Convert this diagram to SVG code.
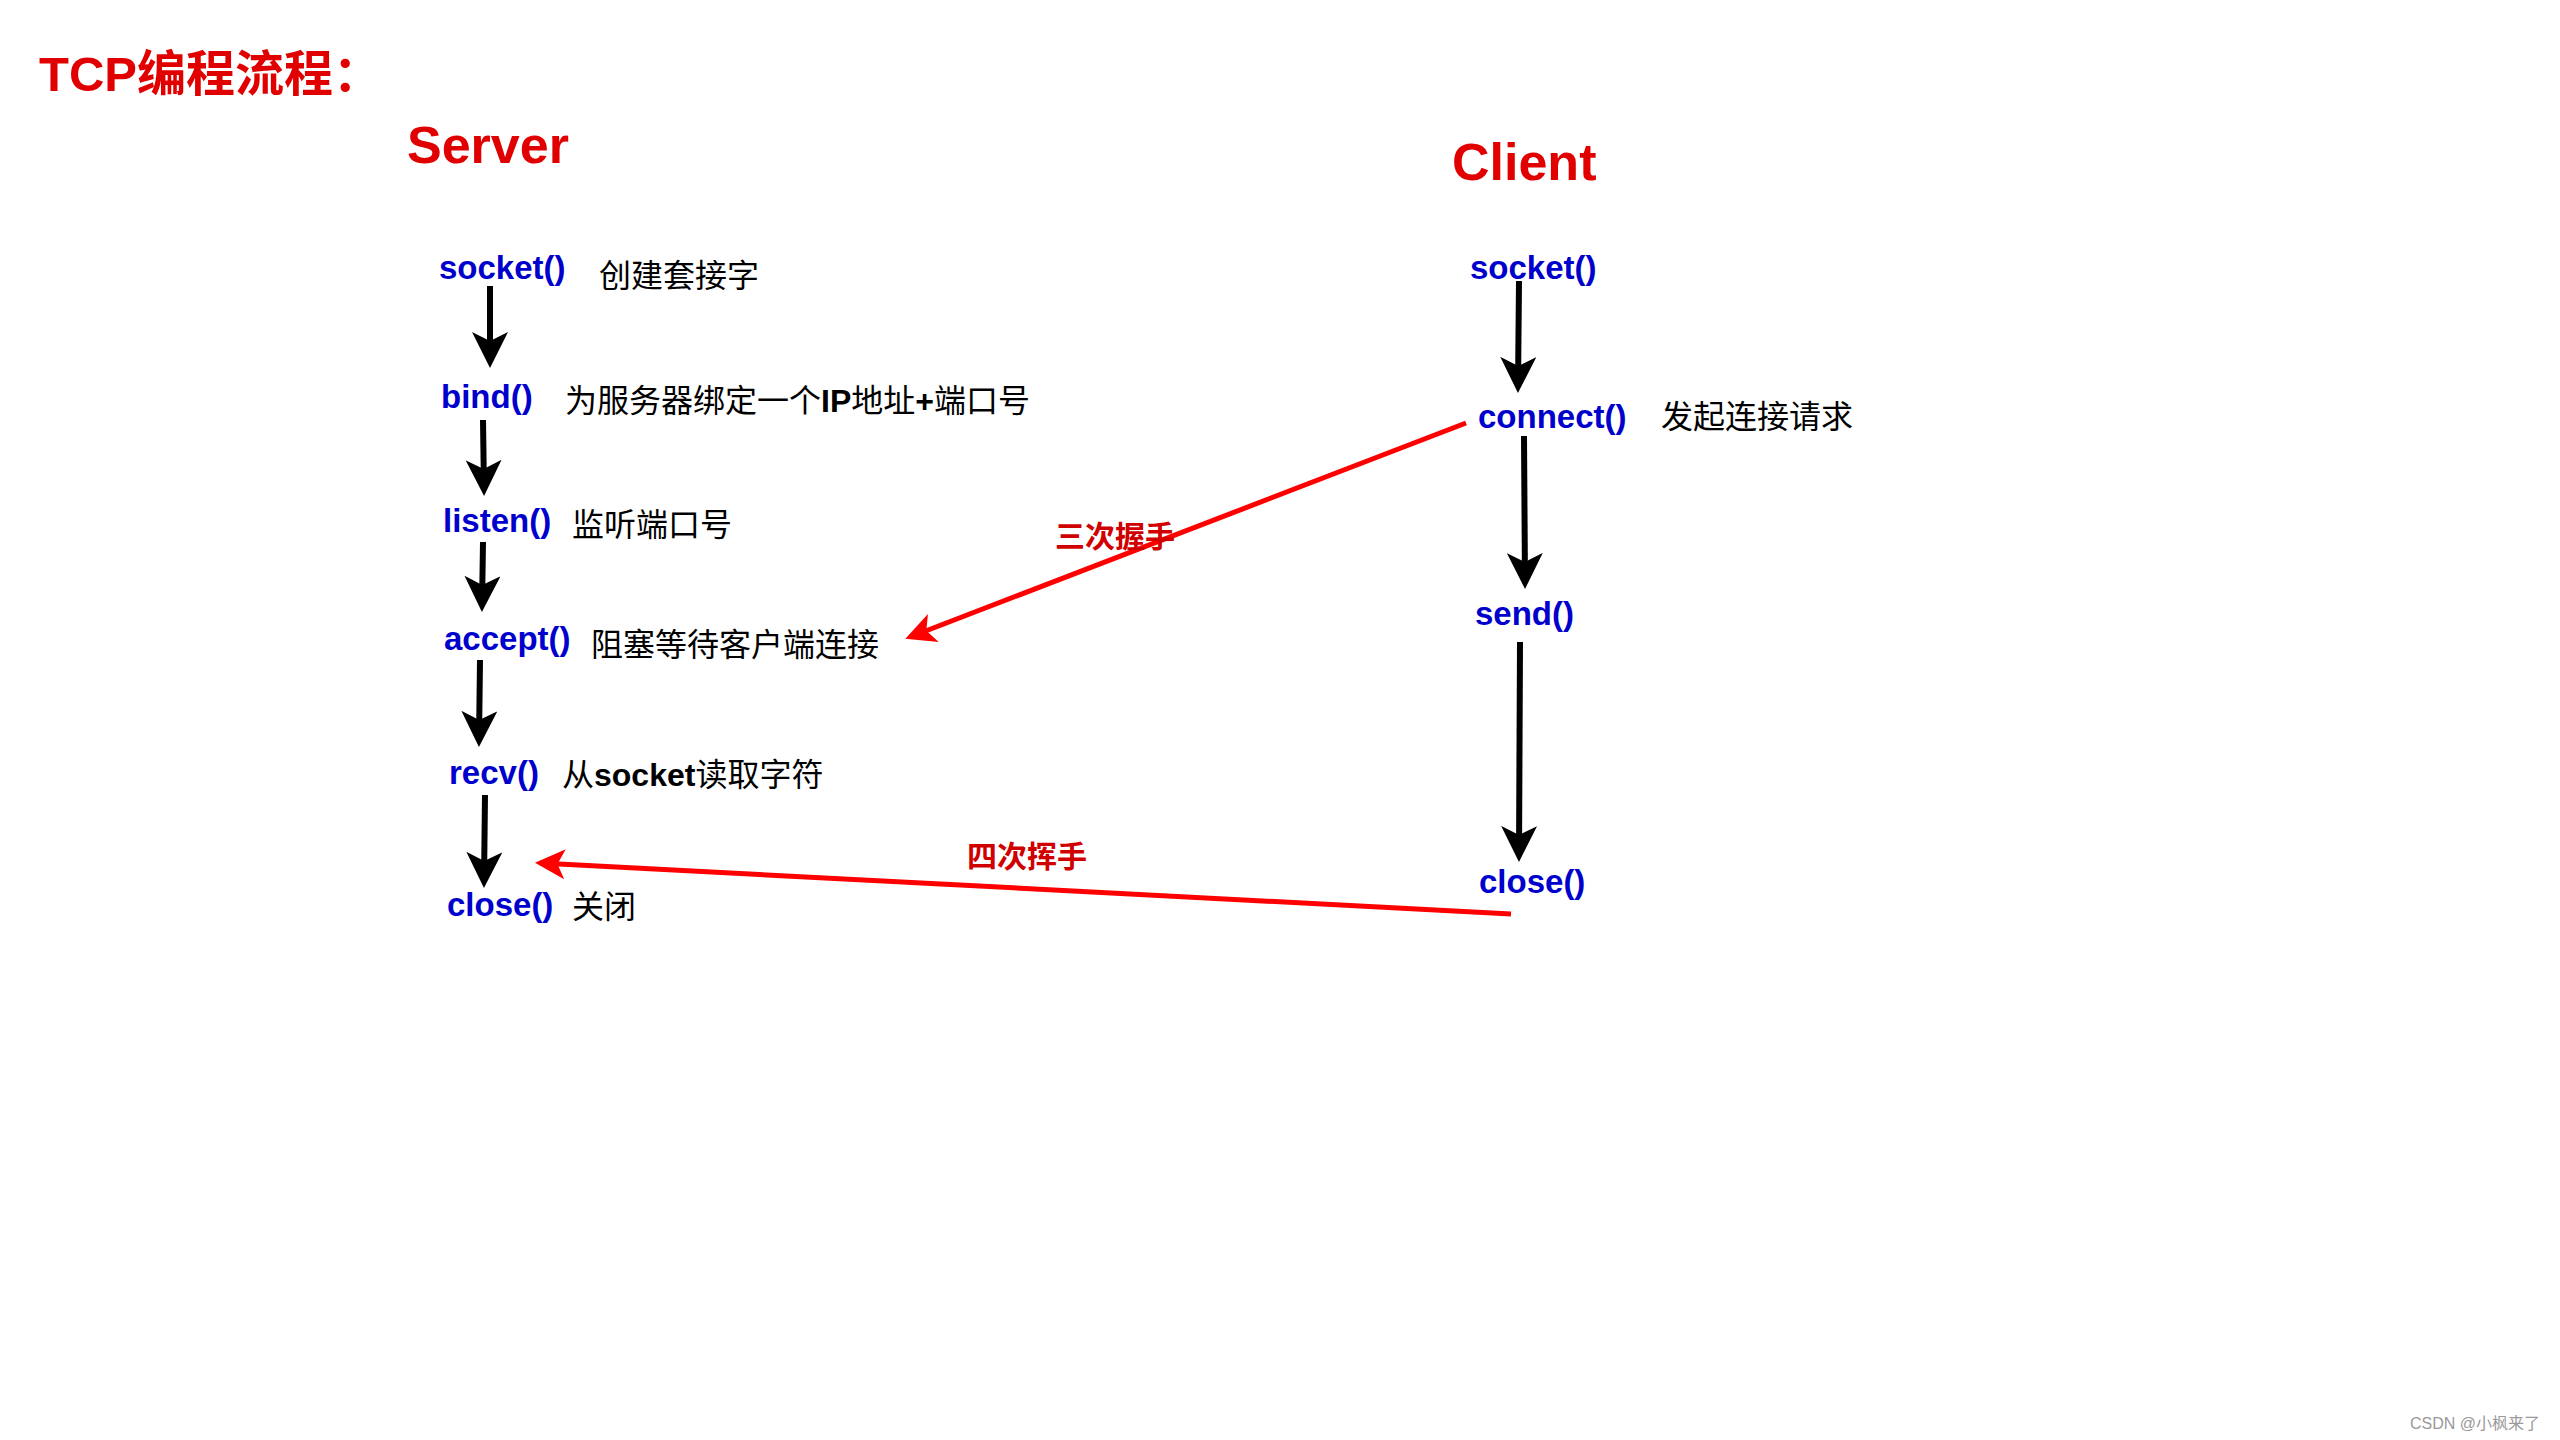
<svg xmlns="http://www.w3.org/2000/svg" width="2560" height="1440" viewBox="0 0 2560 1440">
<style>
.t{font-family:"Liberation Sans","Noto Sans CJK SC",sans-serif;font-weight:bold;fill:#e00000}
.f{font-family:"Liberation Sans",sans-serif;font-weight:bold;font-size:33px;fill:#0000cc}
.d{font-family:"Liberation Serif","Noto Sans CJK SC",serif;font-size:32px;fill:#000}
.k{stroke:#000;stroke-width:6;fill:none;marker-end:url(#ak)}
.r{stroke:#f00;stroke-width:5;fill:none;marker-end:url(#ar)}
.rl{font-family:"Liberation Serif","Noto Sans CJK SC",serif;font-weight:bold;font-size:30px;fill:#d00000}
</style>
<defs>
<marker id="ak" markerWidth="6" markerHeight="6" refX="5" refY="3" orient="auto" markerUnits="strokeWidth"><path d="M0,0 L6,3 L0,6 L1.5,3 Z" fill="#000"/></marker>
<marker id="ar" markerWidth="6" markerHeight="6" refX="5" refY="3" orient="auto" markerUnits="strokeWidth"><path d="M0,0 L6,3 L0,6 L1.5,3 Z" fill="#f00"/></marker>
</defs>
<rect width="2560" height="1440" fill="#fff"/>
<text class="t" x="39" y="91" font-size="49">TCP编程流程：</text>
<text class="t" x="407" y="163" font-size="52">Server</text>
<text class="t" x="1452" y="180" font-size="52">Client</text>
<g id="s_socket"><text class="f" x="439" y="279">socket()</text><text class="d" x="599" y="287">创建套接字</text></g>
<g id="s_bind"><text class="f" x="441" y="408">bind()</text><text class="d" x="565" y="412">为服务器绑定一个<tspan font-family="Liberation Sans" font-weight="bold">IP</tspan>地址<tspan font-family="Liberation Sans" font-weight="bold">+</tspan>端口号</text></g>
<g id="s_listen"><text class="f" x="443" y="532">listen()</text><text class="d" x="572" y="536">监听端口号</text></g>
<g id="s_accept"><text class="f" x="444" y="650">accept()</text><text class="d" x="591" y="656">阻塞等待客户端连接</text></g>
<g id="s_recv"><text class="f" x="449" y="784">recv()</text><text class="d" x="562" y="786">从<tspan font-family="Liberation Sans" font-weight="bold">socket</tspan>读取字符</text></g>
<g id="s_close"><text class="f" x="447" y="916">close()</text><text class="d" x="572" y="918">关闭</text></g>
<g id="c_socket"><text class="f" x="1470" y="279">socket()</text></g>
<g id="c_connect"><text class="f" x="1478" y="428">connect()</text><text class="d" x="1661" y="428">发起连接请求</text></g>
<g id="c_send"><text class="f" x="1475" y="625">send()</text></g>
<g id="c_close"><text class="f" x="1479" y="893">close()</text></g>
<g id="connectors">
<path class="k" d="M490,286 L490,362"/>
<path class="k" d="M483,420 L484,490"/>
<path class="k" d="M483,542 L482,606"/>
<path class="k" d="M480,660 L479,741"/>
<path class="k" d="M485,795 L484,882"/>
<path class="k" d="M1519,281 L1518,387"/>
<path class="k" d="M1524,436 L1525,583"/>
<path class="k" d="M1520,642 L1519,856"/>
<path class="r" d="M1466,423 L910,637"/>
<path class="r" d="M1511,914 L540,863"/>
<text class="rl" x="1055" y="547">三次握手</text>
<text class="rl" x="967" y="867">四次挥手</text>
</g>
<text x="2410" y="1429" font-family="Liberation Sans,Noto Sans CJK SC,sans-serif" font-size="16" fill="#999">CSDN @小枫来了</text>
</svg>
